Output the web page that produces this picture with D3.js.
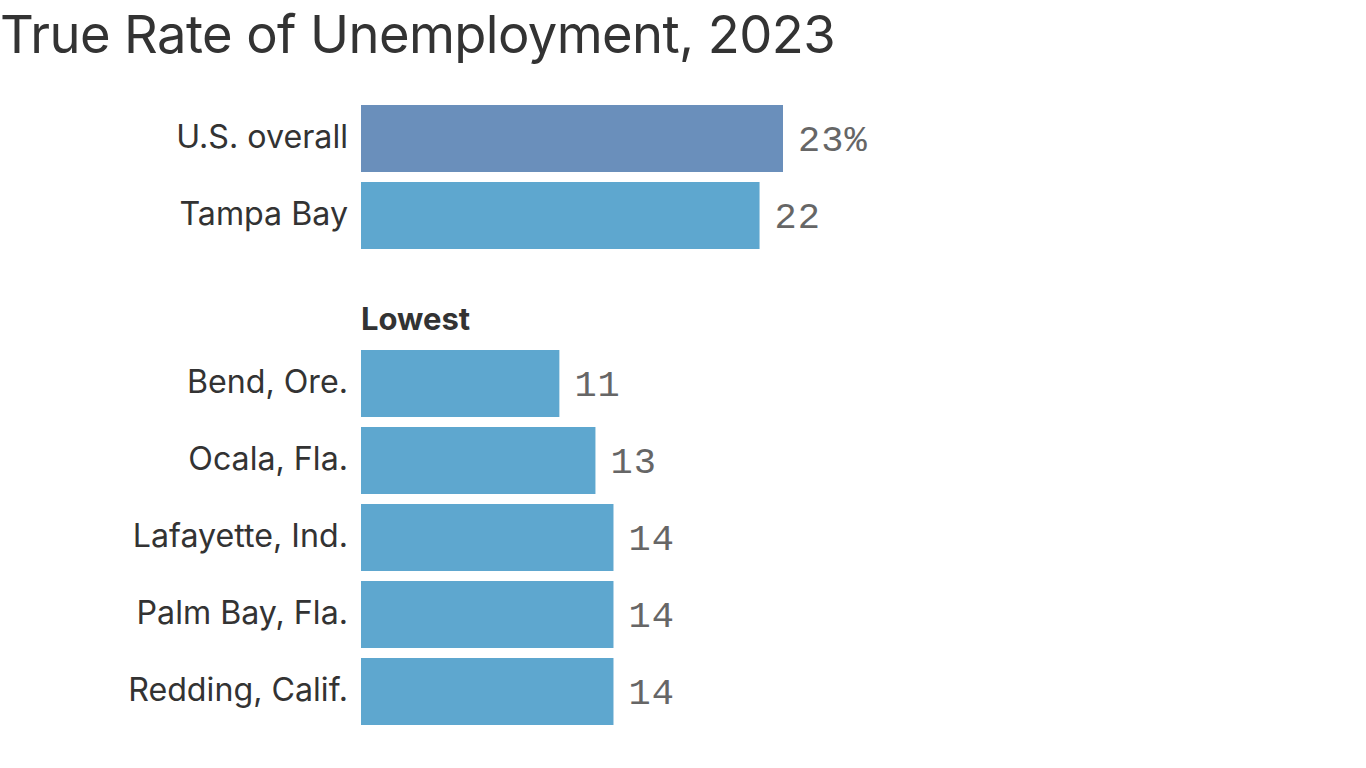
<!DOCTYPE html>
<html lang="en">
    <head>
        <meta charset="UTF-8" />
        <title>True Rate of Unemployment, 2023</title>
        <script src="https://d3js.org/d3.v7.min.js"></script>
        <style>
            body {
                margin: 0;
                background: #fff;
                font-family: Inter, "Noto Sans", sans-serif;
            }
            .label {
                font-size: 32.2px;
                fill: #333;
            }
            .value {
                font-family: "Liberation Mono", "DejaVu Sans Mono", monospace;
                font-size: 37px;
                letter-spacing: 1px;
                fill: #666;
            }
        </style>
    </head>
    <body>
        <svg width="1366" height="768"></svg>

        <script>
            const topNames = ["U.S. overall", "Tampa Bay"];
            const topValues = [23.4, 22.1];
            const topLabels = ["23%", "22"];
            const topColors = ["#6a8fbb", "#5ea7cf"];

            const lowestTitle = "Lowest";
            const lowNames = [
                "Bend, Ore.",
                "Ocala, Fla.",
                "Lafayette, Ind.",
                "Palm Bay, Fla.",
                "Redding, Calif.",
            ];
            const lowValues = [11, 13, 14, 14, 14];
            const lowLabels = ["11", "13", "14", "14", "14"];

            const svg = d3.select("svg");

            // title, starts flush with the left edge
            svg.append("text")
                .attr("x", 0)
                .attr("y", 53)
                .attr("font-size", 52.5)
                .attr("letter-spacing", "-0.6px")
                .attr("fill", "#333")
                .text("True Rate of Unemployment, 2023");

            const x = d3.scaleLinear().domain([0, 23.4]).range([361, 783]);

            function drawGroup(names, values, labels, colors, y0, y1) {
                const rows = names.map((n, i) => ({
                    name: n,
                    value: values[i],
                    label: labels[i],
                    color: colors[i],
                }));
                const y = d3
                    .scaleBand()
                    .domain(names)
                    .range([y0, y1])
                    .paddingInner(0.13)
                    .paddingOuter(0);

                const row = svg
                    .append("g")
                    .selectAll("g")
                    .data(rows)
                    .enter()
                    .append("g");

                row.append("rect")
                    .attr("x", x(0))
                    .attr("y", (d) => y(d.name))
                    .attr("width", (d) => x(d.value) - x(0))
                    .attr("height", y.bandwidth())
                    .attr("fill", (d) => d.color);

                row.append("text")
                    .attr("class", "label")
                    .attr("x", x(0) - 13)
                    .attr("y", (d) => y(d.name) + y.bandwidth() / 2)
                    .attr("dy", "0.3em")
                    .attr("text-anchor", "end")
                    .text((d) => d.name);

                row.append("text")
                    .attr("class", "value")
                    .attr("x", (d) => x(d.value) + 15)
                    .attr("y", (d) => y(d.name) + y.bandwidth() / 2)
                    .attr("dy", "0.33em")
                    .text((d) => d.label);
            }

            drawGroup(topNames, topValues, topLabels, topColors, 105, 249);

            svg.append("text")
                .attr("x", 361)
                .attr("y", 330)
                .attr("font-size", 31)
                .attr("font-weight", "bold")
                .attr("fill", "#333")
                .text(lowestTitle);

            drawGroup(
                lowNames,
                lowValues,
                lowLabels,
                lowNames.map(() => "#5ea7cf"),
                350,
                725
            );
        </script>
    </body>
</html>
